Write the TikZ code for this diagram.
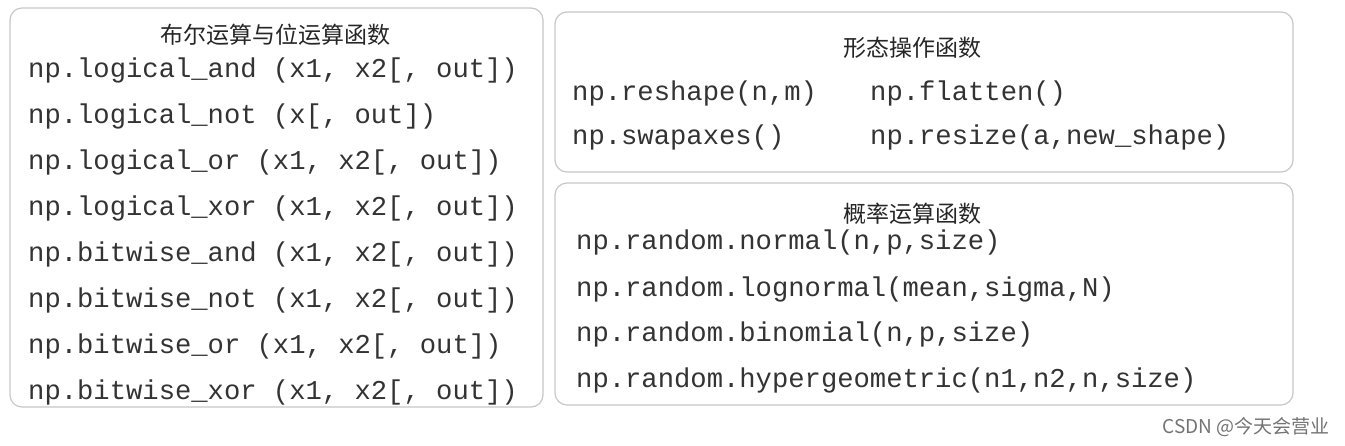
\documentclass[tikz,border=0pt]{standalone}
\usepackage{fontspec}
\setmonofont{Liberation Mono}
\newfontfamily\cjk{Noto Sans CJK SC}
\begin{document}
\begin{tikzpicture}[x=1pt,y=-1pt,
  panel/.style={draw=black!22,line width=1.2pt,rounded corners=12pt,fill=white},
  code/.style={anchor=west,inner sep=0pt,text=black!80,font=\fontsize{27.2}{29}\ttfamily},
  ttl/.style={inner sep=0pt,text=black!85,font=\fontsize{23}{26}\cjk}]
\useasboundingbox (0,0) rectangle (1345,445);
\draw[panel] (10,8) rectangle (543,407);
\draw[panel] (555,12) rectangle (1293,172);
\draw[panel] (555,183) rectangle (1293,405);
\node[ttl] (t1) at (275,35) {布尔运算与位运算函数};
\node[ttl] (t2) at (912,48) {形态操作函数};
\node[ttl] (t3) at (912,214) {概率运算函数};
\node[code] (l1) at (28,70) {np.logical\_and (x1, x2[, out])};
\node[code] (l2) at (28,116) {np.logical\_not (x[, out])};
\node[code] (l3) at (28,162) {np.logical\_or (x1, x2[, out])};
\node[code] (l4) at (28,208) {np.logical\_xor (x1, x2[, out])};
\node[code] (l5) at (28,254) {np.bitwise\_and (x1, x2[, out])};
\node[code] (l6) at (28,300) {np.bitwise\_not (x1, x2[, out])};
\node[code] (l7) at (28,346) {np.bitwise\_or (x1, x2[, out])};
\node[code] (l8) at (28,392) {np.bitwise\_xor (x1, x2[, out])};
\node[code] (r1) at (572,93) {np.reshape(n,m)};
\node[code] (r2) at (870,93) {np.flatten()};
\node[code] (r3) at (572,137) {np.swapaxes()};
\node[code] (r4) at (870,137) {np.resize(a,new\_shape)};
\node[code] (p1) at (576,242) {np.random.normal(n,p,size)};
\node[code] (p2) at (576,289) {np.random.lognormal(mean,sigma,N)};
\node[code] (p3) at (576,334) {np.random.binomial(n,p,size)};
\node[code] (p4) at (576,380) {np.random.hypergeometric(n1,n2,n,size)};
\node[anchor=east,inner sep=0pt,text=black!55,font=\fontsize{19}{22}\cjk] (wm) at (1330,427) {CSDN @今天会营业};
\end{tikzpicture}
\end{document}
